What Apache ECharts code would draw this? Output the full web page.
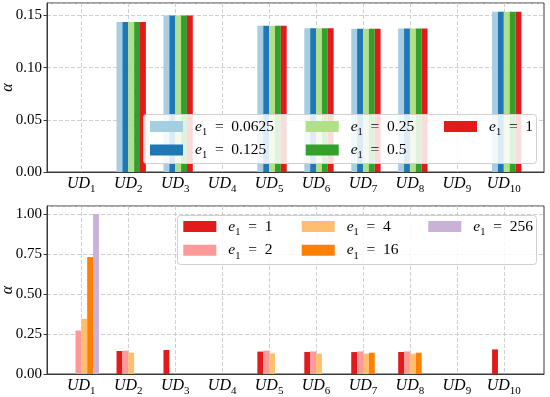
<!DOCTYPE html>
<html><head><meta charset="utf-8">
<script src="https://cdn.jsdelivr.net/npm/echarts@6/dist/echarts.min.js"></script>
<style>html,body{margin:0;padding:0;background:#fff}#c{width:550px;height:397px}</style>
</head><body><div id="c"></div>
<script>
// ---- data ----
const categories = ['UD1','UD2','UD3','UD4','UD5','UD6','UD7','UD8','UD9','UD10'];
const catPos = [1,2,3,4,5,6,7,8,9,10];
const topTicks = [0, 0.05, 0.10, 0.15];
const bottomTicks = [0, 0.25, 0.5, 0.75, 1.0];

// top panel (e1 <= 1)
const topNames = ['e1=0.0625','e1=0.125','e1=0.25','e1=0.5','e1=1'];
const top_e0_0625 = [0, 0.1437, 0.1500, 0, 0.1401, 0.1379, 0.1372, 0.1375, 0, 0.1536];
const top_e0_125  = [0, 0.1437, 0.1500, 0, 0.1401, 0.1379, 0.1372, 0.1375, 0, 0.1536];
const top_e0_25   = [0, 0.1437, 0.1500, 0, 0.1401, 0.1379, 0.1372, 0.1375, 0, 0.1536];
const top_e0_5    = [0, 0.1437, 0.1500, 0, 0.1401, 0.1379, 0.1372, 0.1375, 0, 0.1536];
const top_e1      = [0, 0.1437, 0.1500, 0, 0.1401, 0.1379, 0.1372, 0.1375, 0, 0.1536];
const topColors = ['#a6cee3','#1f78b4','#b2df8a','#33a02c','#e31a1c'];

// bottom panel (e1 >= 1)
const botNames = ['e1=1','e1=2','e1=4','e1=16','e1=256'];
const bot_e1   = [0, 0.1437, 0.1500, 0, 0.1401, 0.1379, 0.1372, 0.1375, 0, 0.1536];
const bot_e2   = [0.272, 0.146, 0, 0, 0.146, 0.141, 0.141, 0.141, 0, 0];
const bot_e4   = [0.345, 0.133, 0, 0, 0.129, 0.127, 0.127, 0.127, 0, 0];
const bot_e16  = [0.731, 0, 0, 0, 0, 0, 0.133, 0.133, 0, 0];
const bot_e256 = [1.000, 0, 0, 0, 0, 0, 0, 0, 0, 0];
const botColors = ['#e31a1c','#fb9a99','#fdbf6f','#ff7f00','#cab2d6'];

// ---- chart ----
const FONT = '"Liberation Serif", "DejaVu Serif", serif';
const XMIN = 0.269, XMAX = 10.856;
const BARW = 5.87;
const frame = '#3a3a3a';
const gridLineStyle = {color:'#c4c4c4', type:[4,2], width:0.8};

const axisRich = {
  i:{fontFamily:FONT, fontStyle:'italic', fontSize:16, color:'#000', lineHeight:22, verticalAlign:'middle'},
  s:{fontFamily:FONT, fontSize:11, color:'#000', lineHeight:22, verticalAlign:'bottom'}
};
const legendRich = {
  i:{fontFamily:FONT, fontStyle:'italic', fontSize:15.5, color:'#000', lineHeight:22, verticalAlign:'middle'},
  s:{fontFamily:FONT, fontSize:10.5, color:'#000', lineHeight:22, verticalAlign:'bottom'},
  n:{fontFamily:FONT, fontSize:15.5, color:'#000', lineHeight:22, verticalAlign:'middle'},
  g:{fontFamily:FONT, fontSize:15, lineHeight:22, width:7, verticalAlign:'middle'}
};

function xAxisCfg(gi){
  return {
    type:'value', gridIndex:gi, min:XMIN, max:XMAX,
    axisLine:{show:true, onZero:false, lineStyle:{color:frame, width:1}},
    axisTick:{show:false, customValues:catPos},
    splitLine:{show:true, lineStyle:gridLineStyle},
    axisLabel:{customValues:catPos, margin:0.5,
      formatter:function(v){ const k = Math.round(v); return '{i|UD}{s|' + k + '}'; },
      rich:axisRich}
  };
}
function yAxisCfg(gi, max, interval){
  return {
    type:'value', gridIndex:gi, min:0, max:max, interval:interval,
    name:'α', nameLocation:'middle', nameGap:31, nameMoveOverlap:false,
    nameTextStyle:{fontFamily:FONT, fontStyle:'italic', fontSize:16, color:'#000'},
    axisLine:{show:true, lineStyle:{color:frame, width:1}},
    axisTick:{show:true, inside:false, length:3.5, lineStyle:{color:frame}},
    splitLine:{show:true, lineStyle:gridLineStyle},
    axisLabel:{showMaxLabel:false, margin:5, fontFamily:FONT, fontSize:15, color:'#000',
      formatter:function(v){ return v.toFixed(2); }}
  };
}

function mk(vals){ return catPos.map((x,i)=>[x, vals[i]]); }
function barSeries(name, vals, color, gi){
  return {type:'bar', name:name, xAxisIndex:gi, yAxisIndex:gi, data:mk(vals),
    barWidth:BARW, barGap:'0%', itemStyle:{color:color}, emphasis:{disabled:true}, z:2};
}
function padSeries(gi){
  return {type:'bar', name:'_pad'+gi, xAxisIndex:gi, yAxisIndex:gi, data:[],
    barWidth:BARW, barGap:'0%', itemStyle:{color:'rgba(0,0,0,0)'}, silent:true};
}

const topVals = [top_e0_0625, top_e0_125, top_e0_25, top_e0_5, top_e1];
const botVals = [bot_e1, bot_e2, bot_e4, bot_e16, bot_e256];
const series = [padSeries(0)];
topNames.forEach((n,i)=>series.push(barSeries(n, topVals[i], topColors[i], 0)));
series.push(padSeries(1));
botNames.forEach((n,i)=>series.push(barSeries(n, botVals[i], botColors[i], 1)));

function legendFmt(name){ return '{g| }{i|e}{s|1}{n|\u2002=\u2002' + name.split('=')[1] + '}'; }
function legendCol(names, left, top, gap){
  return {show:true, orient:'vertical', left:left, top:top, padding:0, itemGap:gap,
    itemWidth:33, itemHeight:11, icon:'rect', data:names, selectedMode:false,
    formatter:legendFmt, textStyle:{rich:legendRich}, z:20};
}

const option = {
  animation:false,
  backgroundColor:'#fff',
  grid:[
    {left:47, right:6, top:3, height:169, outerBoundsMode:'none', containLabel:false,
      show:true, borderColor:frame, borderWidth:1, backgroundColor:'transparent'},
    {left:47, right:6, top:206, height:168, outerBoundsMode:'none', containLabel:false,
      show:true, borderColor:frame, borderWidth:1, backgroundColor:'transparent'}
  ],
  xAxis:[xAxisCfg(0), xAxisCfg(1)],
  yAxis:[yAxisCfg(0, 0.162, 0.05), yAxisCfg(1, 1.05, 0.25)],
  legend:[
    legendCol([topNames[0], topNames[1]], 150, 118.5, 4.5),
    legendCol([topNames[2], topNames[3]], 305.7, 118.5, 4.5),
    legendCol([topNames[4]], 444, 118.5, 4.5),
    legendCol([botNames[0], botNames[1]], 183.3, 218.5, 4.8),
    legendCol([botNames[2], botNames[3]], 301.7, 218.5, 4.8),
    legendCol([botNames[4]], 428.3, 218.5, 4.8)
  ],
  graphic:[
    {type:'rect', z:15, shape:{x:143.5, y:114.5, width:393, height:49, r:3},
      style:{fill:'rgba(255,255,255,0.85)', stroke:'#d0d0d0', lineWidth:1}},
    {type:'rect', z:15, shape:{x:177.5, y:215.5, width:359, height:49, r:3},
      style:{fill:'rgba(255,255,255,0.85)', stroke:'#d0d0d0', lineWidth:1}}
  ],
  series:series
};
const chart = echarts.init(document.getElementById('c'), null, {renderer:'canvas'});
chart.setOption(option);
</script>
</body></html>
